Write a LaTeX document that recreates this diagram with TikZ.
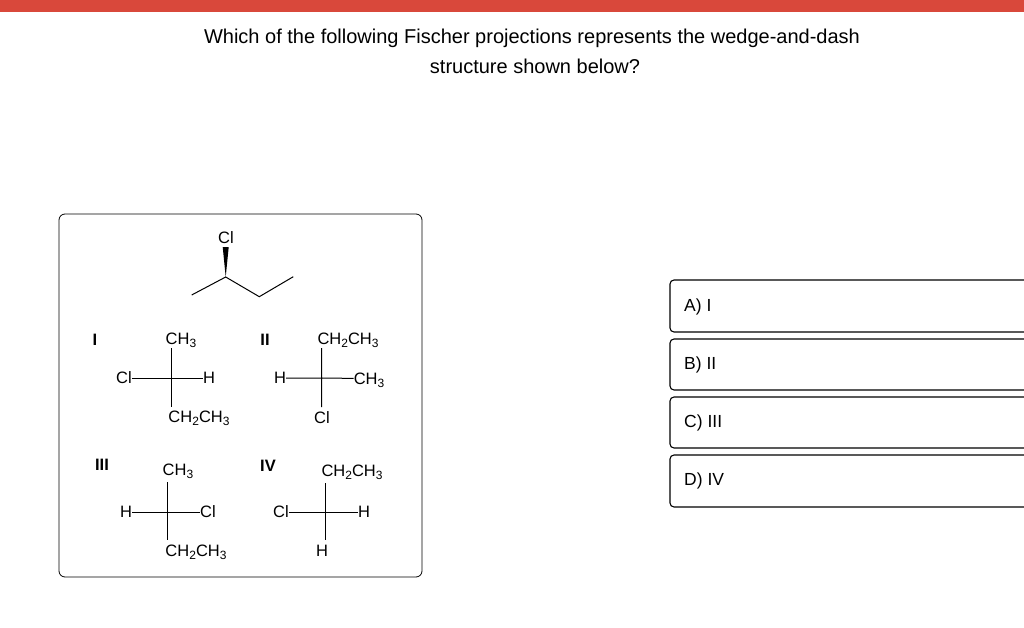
\documentclass[tikz,border=0pt]{standalone}
\usepackage{fontspec}
\setmainfont{Liberation Sans}
\newcommand\sbx[1]{\raisebox{-0.35ex}{\fontsize{12}{12}\selectfont #1}}
\begin{document}
\begin{tikzpicture}[x=1pt,y=-1pt,
  lbl/.style={inner sep=0pt,font=\fontsize{16.5}{18}\selectfont},
  rom/.style={inner sep=0pt,font=\fontsize{16.5}{18}\selectfont\bfseries},
  bond/.style={line width=1pt},
  ans/.style={draw,line width=1.1pt,rounded corners=4pt},
  anst/.style={inner sep=0pt,anchor=west,font=\fontsize{17.5}{20}\selectfont}]
\useasboundingbox (0,0) rectangle (1024,628);
\fill[fill={rgb,255:red,217;green,72;blue,59}] (0,0) rectangle (1024,12);
\node[inner sep=0pt,font=\fontsize{20}{23}\selectfont] (t1) at (532,38) {Which of the following Fischer projections represents the wedge-and-dash};
\node[inner sep=0pt,font=\fontsize{20}{23}\selectfont] (t2) at (535,66) {structure shown below?};
\draw[line width=0.8pt,rounded corners=6pt] (59,214) rectangle (422,577);
% wedge-dash structure
\coordinate (c2) at (225.7,277);
\coordinate (c1) at (191.7,295);
\coordinate (c3) at (259.3,296.7);
\coordinate (c4) at (293.3,276.7);
\node[lbl] (clw) at (226,238) {Cl};
\draw[bond] (c1) -- (c2) -- (c3) -- (c4);
\fill (c2) -- (222.7,247) -- (228.7,247) -- cycle;
% I
\coordinate (f1) at (171.7,377.7);
\node[rom] (r1) at (95,340) {I};
\node[lbl] (a1) at (181,340) {CH\sbx{3}};
\node[lbl] (b1) at (124,378) {Cl};
\node[lbl] (c1r) at (209,378) {H};
\node[lbl] (d1) at (199,418) {CH\sbx{2}CH\sbx{3}};
\draw[bond] (171.7,348) -- (171.7,407) (b1.east) -- (c1r.west);
% II
\coordinate (f2) at (321.7,378.3);
\node[rom] (r2) at (265,340) {II};
\node[lbl] (a2) at (348,340) {CH\sbx{2}CH\sbx{3}};
\node[lbl] (b2) at (280,378) {H};
\node[lbl] (c2r) at (369,380) {CH\sbx{3}};
\node[lbl] (d2) at (322,418) {Cl};
\draw[bond] (321.7,348) -- (321.7,407) (b2.east) -- (c2r.west|-f2);
% III
\coordinate (f3) at (167.3,511);
\node[rom] (r3) at (102,465) {III};
\node[lbl] (a3) at (178,471) {CH\sbx{3}};
\node[lbl] (b3) at (126,512) {H};
\node[lbl] (c3r) at (208,512) {Cl};
\node[lbl] (d3) at (196,552) {CH\sbx{2}CH\sbx{3}};
\draw[bond] (167.3,482) -- (167.3,540) (b3.east) -- (c3r.west);
% IV
\coordinate (f4) at (325,511);
\node[rom] (r4) at (268,466) {IV};
\node[lbl] (a4) at (352,472) {CH\sbx{2}CH\sbx{3}};
\node[lbl] (b4) at (281,512) {Cl};
\node[lbl] (c4r) at (364,512) {H};
\node[lbl] (d4) at (322,551) {H};
\draw[bond] (325,483) -- (325,540) (b4.east) -- (c4r.west);
% answers
\draw[ans] (1030,280) -| (670,332) -- (1030,332);
\draw[ans] (1030,339) -| (670,390) -- (1030,390);
\draw[ans] (1030,397) -| (670,448) -- (1030,448);
\draw[ans] (1030,455) -| (670,507) -- (1030,507);
\node[anst] (qa) at (684,307) {A) I};
\node[anst] (qb) at (684,365) {B) II};
\node[anst] (qc) at (684,423) {C) III};
\node[anst] (qd) at (684,481) {D) IV};
\end{tikzpicture}
\end{document}
